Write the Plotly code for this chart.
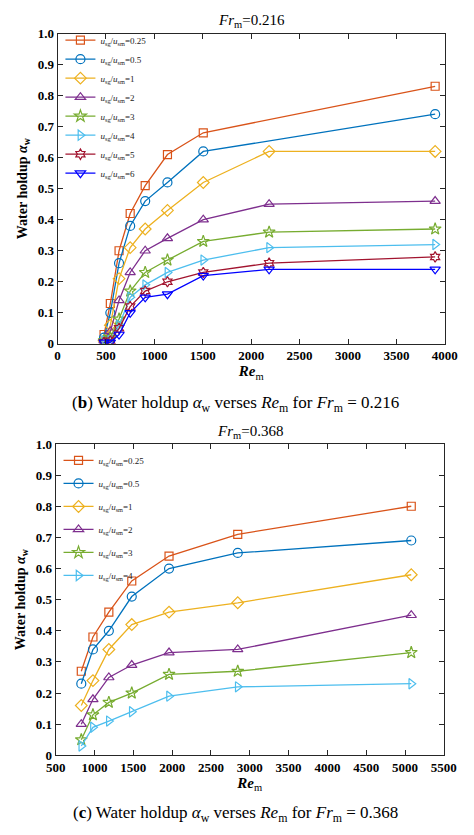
import plotly.graph_objects as go

# ---------------- data ----------------
ratio_labels = ["0.25", "0.5", "1", "2", "3", "4", "5", "6"]

re_fr216 = [480, 545, 635, 750, 905, 1135, 1505, 2185, 3900]
aw_fr216_r025 = [0.03, 0.13, 0.30, 0.42, 0.51, 0.61, 0.68, None, 0.83]
aw_fr216_r05 = [0.02, 0.10, 0.26, 0.38, 0.46, 0.52, 0.62, None, 0.74]
aw_fr216_r1 = [0.01, 0.06, 0.21, 0.31, 0.37, 0.43, 0.52, 0.62, 0.62]
aw_fr216_r2 = [0.01, 0.04, 0.14, 0.23, 0.30, 0.34, 0.40, 0.45, 0.46]
aw_fr216_r3 = [0.01, 0.02, 0.08, 0.17, 0.23, 0.27, 0.33, 0.36, 0.37]
aw_fr216_r4 = [0.01, 0.01, 0.06, 0.15, 0.19, 0.23, 0.27, 0.31, 0.32]
aw_fr216_r5 = [0.005, 0.01, 0.05, 0.12, 0.17, 0.20, 0.23, 0.26, 0.28]
aw_fr216_r6 = [0.005, 0.005, 0.03, 0.10, 0.15, 0.16, 0.22, 0.24, 0.24]

re_fr368 = [830, 980, 1185, 1480, 1960, 2845, 5080]
aw_fr368_r025 = [0.27, 0.38, 0.46, 0.56, 0.64, 0.71, 0.80]
aw_fr368_r05 = [0.23, 0.34, 0.40, 0.51, 0.60, 0.65, 0.69]
aw_fr368_r1 = [0.16, 0.24, 0.34, 0.42, 0.46, 0.49, 0.58]
aw_fr368_r2 = [0.10, 0.18, 0.25, 0.29, 0.33, 0.34, 0.45]
aw_fr368_r3 = [0.05, 0.13, 0.17, 0.20, 0.26, 0.27, 0.33]
aw_fr368_r4 = [0.03, 0.09, 0.11, 0.14, 0.19, 0.22, 0.23]

y_tickvals = [0, 0.1, 0.2, 0.3, 0.4, 0.5, 0.6, 0.7, 0.8, 0.9, 1.0]
y_ticktext = ["0", "0.1", "0.2", "0.3", "0.4", "0.5", "0.6", "0.7", "0.8", "0.9", "1.0"]
x_ticks_top = [0, 500, 1000, 1500, 2000, 2500, 3000, 3500, 4000]
x_ticks_bot = [500, 1000, 1500, 2000, 2500, 3000, 3500, 4000, 4500, 5000, 5500]

# ---------------- styles ----------------
colors = ["#D95319", "#0072BD", "#EDB120", "#7E2F8E", "#77AC30", "#4DBEEE", "#A2142F", "#0000FF"]
symbols = ["square-open", "circle-open", "diamond-open", "triangle-up-open",
           "star-open", "triangle-right-open", "hexagram-open", "triangle-down-open"]
sizes = [8, 9, 9, 9, 9, 9, 8, 9]

SERIF = "'Liberation Serif', 'Times New Roman', Times, serif"
W, H = 474, 835

def px_x(p):
    return p / W

def px_y(p):
    return 1 - p / H

fig = go.Figure()

top_series = [aw_fr216_r025, aw_fr216_r05, aw_fr216_r1, aw_fr216_r2,
              aw_fr216_r3, aw_fr216_r4, aw_fr216_r5, aw_fr216_r6]
bot_series = [aw_fr368_r025, aw_fr368_r05, aw_fr368_r1, aw_fr368_r2,
              aw_fr368_r3, aw_fr368_r4]

for i, ys in enumerate(top_series):
    fig.add_trace(go.Scatter(
        x=re_fr216, y=ys, mode="lines+markers", connectgaps=True,
        name="<i>u</i><sub>sg</sub>/<i>u</i><sub>sm</sub>=" + ratio_labels[i],
        line=dict(color=colors[i], width=1.3),
        marker=dict(symbol=symbols[i], size=sizes[i], color=colors[i],
                    line=dict(width=1.2, color=colors[i])),
        xaxis="x", yaxis="y", legend="legend", legendgroup="t%d" % i,
    ))

for i, ys in enumerate(bot_series):
    fig.add_trace(go.Scatter(
        x=re_fr368, y=ys, mode="lines+markers",
        name="<i>u</i><sub>sg</sub>/<i>u</i><sub>sm</sub>=" + ratio_labels[i],
        line=dict(color=colors[i], width=1.3),
        marker=dict(symbol=symbols[i], size=sizes[i], color=colors[i],
                    line=dict(width=1.2, color=colors[i])),
        xaxis="x2", yaxis="y2", legend="legend2", legendgroup="b%d" % i,
    ))

axis_common = dict(
    showline=True, linecolor="#262626", linewidth=1, mirror="ticks",
    ticks="inside", ticklen=5, tickcolor="#262626", showgrid=False, zeroline=False,
    tickfont=dict(family=SERIF, size=13, color="#000000", weight="bold"),
)

fig.update_layout(
    width=W, height=H,
    margin=dict(l=0, r=0, t=0, b=0),
    paper_bgcolor="white", plot_bgcolor="white",
    font=dict(family=SERIF),
    xaxis=dict(axis_common, domain=[px_x(50), px_x(457)], range=[0, 4000],
               tickvals=x_ticks_top, anchor="y",
               title=dict(text="<b><i>Re</i></b><sub>m</sub>",
                          font=dict(family=SERIF, size=15, color="#000"), standoff=2)),
    yaxis=dict(axis_common, domain=[px_y(343), px_y(27)], range=[0, 1],
               tickvals=y_tickvals, ticktext=y_ticktext, anchor="x",
               title=dict(text="<b>Water holdup <i>α</i><sub>w</sub></b>",
                          font=dict(family=SERIF, size=14, color="#000"), standoff=6)),
    xaxis2=dict(axis_common, domain=[px_x(48), px_x(456)], range=[500, 5500],
                tickvals=x_ticks_bot, anchor="y2",
                title=dict(text="<b><i>Re</i></b><sub>m</sub>",
                           font=dict(family=SERIF, size=15, color="#000"), standoff=2)),
    yaxis2=dict(axis_common, domain=[px_y(762), px_y(445)], range=[0, 1],
                tickvals=y_tickvals, ticktext=y_ticktext, anchor="x2",
                title=dict(text="<b>Water holdup <i>α</i><sub>w</sub></b>",
                           font=dict(family=SERIF, size=14, color="#000"), standoff=6)),
    legend=dict(x=px_x(53), y=px_y(19), xanchor="left", yanchor="top",
                bgcolor="rgba(0,0,0,0)", borderwidth=0, tracegroupgap=0,
                font=dict(family=SERIF, size=9, color="#222")),
    legend2=dict(x=px_x(51), y=px_y(447), xanchor="left", yanchor="top",
                 bgcolor="rgba(0,0,0,0)", borderwidth=0, tracegroupgap=4,
                 font=dict(family=SERIF, size=9, color="#222")),
    showlegend=True,
)

annotations = [
    dict(text="<i>Fr</i><sub>m</sub>=0.216", x=0.5 * (px_x(50) + px_x(457)), y=px_y(14),
         font=dict(family=SERIF, size=15, color="#000")),
    dict(text="<i>Fr</i><sub>m</sub>=0.368", x=0.5 * (px_x(48) + px_x(456)), y=px_y(433),
         font=dict(family=SERIF, size=15, color="#000")),
    dict(text="(<b>b</b>) Water holdup <i>α</i><sub>w</sub> verses <i>Re</i><sub>m</sub> for <i>Fr</i><sub>m</sub> = 0.216",
         x=0.5, y=px_y(404), font=dict(family=SERIF, size=17, color="#000")),
    dict(text="(<b>c</b>) Water holdup <i>α</i><sub>w</sub> verses <i>Re</i><sub>m</sub> for <i>Fr</i><sub>m</sub> = 0.368",
         x=0.5, y=px_y(822), font=dict(family=SERIF, size=17, color="#000")),
]
for a in annotations:
    fig.add_annotation(xref="paper", yref="paper", showarrow=False,
                       xanchor="center", yanchor="middle", **a)

fig.write_html("out.html")
